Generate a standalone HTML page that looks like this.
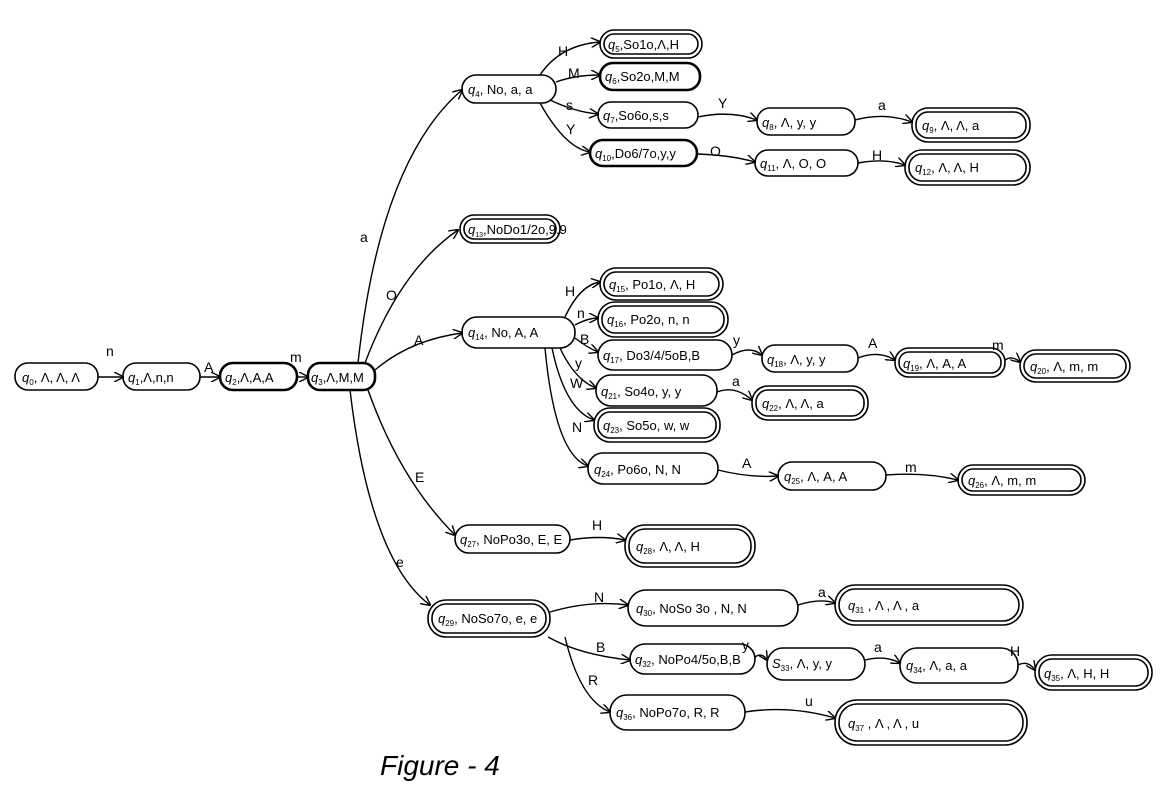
<!DOCTYPE html>
<html><head><meta charset="utf-8"><style>
html,body{margin:0;padding:0;background:#fff;}
svg{display:block}
text{font-family:"Liberation Sans",sans-serif;font-size:13px;fill:#000}
.n{fill:none;stroke:#000;stroke-width:1.6}
.b{fill:none;stroke:#000;stroke-width:2.6}
.e{fill:none;stroke:#000;stroke-width:1.4;marker-end:url(#ar)}
.l{font-size:14px}
</style></head><body>
<svg width="1161" height="811" viewBox="0 0 1161 811" xmlns="http://www.w3.org/2000/svg">
<defs><marker id="ar" markerWidth="10" markerHeight="10" refX="9" refY="5" orient="auto" markerUnits="userSpaceOnUse"><path d="M0,0 L10,5 L0,10" fill="none" stroke="#000" stroke-width="1.4"/></marker></defs>

<!-- main chain -->
<rect class="n" x="15" y="363" width="83" height="27" rx="13"/><text x="22" y="382"><tspan font-style="italic">q</tspan><tspan font-size="8" dy="3">0</tspan><tspan dy="-3">, Λ, Λ, Λ</tspan></text>
<rect class="n" x="123" y="363" width="77" height="27" rx="13"/><text x="128" y="382"><tspan font-style="italic">q</tspan><tspan font-size="8" dy="3">1</tspan><tspan dy="-3">,Λ,n,n</tspan></text>
<rect class="b" x="220" y="363" width="77" height="27" rx="13"/><text x="225" y="382"><tspan font-style="italic">q</tspan><tspan font-size="8" dy="3">2</tspan><tspan dy="-3">,Λ,A,A</tspan></text>
<rect class="b" x="308" y="363" width="67" height="27" rx="12"/><text x="311" y="382"><tspan font-style="italic">q</tspan><tspan font-size="8" dy="3">3</tspan><tspan dy="-3">,Λ,M,M</tspan></text>
<path class="e" d="M98,377 L123,377"/><text class="l" x="106" y="356">n</text>
<path class="e" d="M200,377 L220,377"/><text class="l" x="204" y="372">A</text>
<path class="e" d="M297,377 L308,377"/><text class="l" x="290" y="362">m</text>

<!-- branches from q3 -->
<path class="e" d="M358,363 Q380,160 462,90"/><text class="l" x="360" y="242">a</text>
<path class="e" d="M365,363 Q400,270 458,230"/><text class="l" x="386" y="300">O</text>
<path class="e" d="M375,370 Q410,340 462,333"/><text class="l" x="414" y="345">A</text>
<path class="e" d="M368,390 Q400,480 455,535"/><text class="l" x="415" y="482">E</text>
<path class="e" d="M350,390 Q370,560 430,605"/><text class="l" x="396" y="567">e</text>

<!-- q4 group -->
<rect class="n" x="462" y="75" width="94" height="28" rx="14"/><text x="468" y="94"><tspan font-style="italic">q</tspan><tspan font-size="8" dy="3">4</tspan><tspan dy="-3">, No, a, a</tspan></text>
<rect class="n" x="600" y="30" width="102" height="28" rx="14"/><rect class="n" x="604" y="34" width="94" height="20" rx="10"/><text x="608" y="49"><tspan font-style="italic">q</tspan><tspan font-size="8" dy="3">5</tspan><tspan dy="-3">,So1o,Λ,H</tspan></text>
<rect class="b" x="600" y="63" width="100" height="27" rx="13"/><text x="605" y="81"><tspan font-style="italic">q</tspan><tspan font-size="8" dy="3">6</tspan><tspan dy="-3">,So2o,M,M</tspan></text>
<rect class="n" x="598" y="102" width="100" height="26" rx="13"/><text x="603" y="120"><tspan font-style="italic">q</tspan><tspan font-size="8" dy="3">7</tspan><tspan dy="-3">,So6o,s,s</tspan></text>
<rect class="b" x="590" y="140" width="107" height="26" rx="13"/><text x="595" y="158"><tspan font-style="italic">q</tspan><tspan font-size="8" dy="3">10</tspan><tspan dy="-3">,Do6/7o,y,y</tspan></text>
<path class="e" d="M540,75 Q560,45 600,42"/><text class="l" x="558" y="56">H</text>
<path class="e" d="M556,82 Q575,75 600,75"/><text class="l" x="568" y="78">M</text>
<path class="e" d="M550,100 Q575,112 598,114"/><text class="l" x="566" y="110">s</text>
<path class="e" d="M540,103 Q565,148 590,152"/><text class="l" x="566" y="134">Y</text>
<rect class="n" x="757" y="108" width="98" height="27" rx="13"/><text x="762" y="127"><tspan font-style="italic">q</tspan><tspan font-size="8" dy="3">8</tspan><tspan dy="-3">, Λ, y, y</tspan></text>
<path class="e" d="M698,117 Q730,110 757,120"/><text class="l" x="718" y="108">Y</text>
<rect class="n" x="912" y="108" width="118" height="34" rx="16"/><rect class="n" x="916" y="112" width="110" height="26" rx="12"/><text x="922" y="130"><tspan font-style="italic">q</tspan><tspan font-size="8" dy="3">9</tspan><tspan dy="-3">, Λ, Λ, a</tspan></text>
<path class="e" d="M855,120 Q885,112 912,122"/><text class="l" x="878" y="110">a</text>
<rect class="n" x="755" y="150" width="103" height="26" rx="13"/><text x="760" y="168"><tspan font-style="italic">q</tspan><tspan font-size="8" dy="3">11</tspan><tspan dy="-3">, Λ, O, O</tspan></text>
<path class="e" d="M697,154 Q730,155 755,162"/><text class="l" x="710" y="156">O</text>
<rect class="n" x="905" y="150" width="125" height="35" rx="17"/><rect class="n" x="909" y="154" width="117" height="27" rx="13"/><text x="915" y="172"><tspan font-style="italic">q</tspan><tspan font-size="8" dy="3">12</tspan><tspan dy="-3">, Λ, Λ, H</tspan></text>
<path class="e" d="M858,163 Q885,158 905,165"/><text class="l" x="872" y="160">H</text>

<!-- q13 -->
<rect class="n" x="460" y="215" width="100" height="28" rx="14"/><rect class="n" x="464" y="219" width="92" height="20" rx="10"/><text x="468" y="234" font-size="11"><tspan font-style="italic">q</tspan><tspan font-size="7" dy="3">13</tspan><tspan dy="-3">,NoDo1/2o,9,9</tspan></text>

<!-- q14 group -->
<rect class="n" x="462" y="317" width="113" height="31" rx="15"/><text x="468" y="337"><tspan font-style="italic">q</tspan><tspan font-size="8" dy="3">14</tspan><tspan dy="-3">, No, A, A</tspan></text>
<rect class="n" x="600" y="268" width="123" height="32" rx="16"/><rect class="n" x="604" y="272" width="115" height="24" rx="12"/><text x="609" y="289"><tspan font-style="italic">q</tspan><tspan font-size="8" dy="3">15</tspan><tspan dy="-3">, Po1o, Λ, H</tspan></text>
<rect class="n" x="598" y="302" width="130" height="35" rx="17"/><rect class="n" x="602" y="306" width="122" height="27" rx="13"/><text x="607" y="324"><tspan font-style="italic">q</tspan><tspan font-size="8" dy="3">16</tspan><tspan dy="-3">, Po2o, n, n</tspan></text>
<rect class="n" x="598" y="340" width="134" height="30" rx="15"/><text x="603" y="360"><tspan font-style="italic">q</tspan><tspan font-size="8" dy="3">17</tspan><tspan dy="-3">, Do3/4/5oB,B</tspan></text>
<rect class="n" x="596" y="375" width="121" height="31" rx="15"/><text x="601" y="396"><tspan font-style="italic">q</tspan><tspan font-size="8" dy="3">21</tspan><tspan dy="-3">, So4o, y, y</tspan></text>
<rect class="n" x="594" y="408" width="126" height="34" rx="16"/><rect class="n" x="598" y="412" width="118" height="26" rx="12"/><text x="603" y="430"><tspan font-style="italic">q</tspan><tspan font-size="8" dy="3">23</tspan><tspan dy="-3">, So5o, w, w</tspan></text>
<rect class="n" x="588" y="453" width="130" height="31" rx="15"/><text x="594" y="474"><tspan font-style="italic">q</tspan><tspan font-size="8" dy="3">24</tspan><tspan dy="-3">, Po6o, N, N</tspan></text>
<path class="e" d="M565,317 Q580,285 600,282"/><text class="l" x="565" y="296">H</text>
<path class="e" d="M575,325 Q588,318 598,318"/><text class="l" x="577" y="318">n</text>
<path class="e" d="M575,338 Q588,348 598,352"/><text class="l" x="580" y="344">B</text>
<path class="e" d="M560,348 Q575,380 596,388"/><text class="l" x="575" y="368">y</text>
<path class="e" d="M552,348 Q565,410 594,420"/><text class="l" x="570" y="388">W</text>
<path class="e" d="M545,348 Q555,455 588,466"/><text class="l" x="572" y="432">N</text>
<rect class="n" x="762" y="345" width="96" height="27" rx="13"/><text x="767" y="364"><tspan font-style="italic">q</tspan><tspan font-size="8" dy="3">18</tspan><tspan dy="-3">, Λ, y, y</tspan></text>
<path class="e" d="M732,355 Q750,345 762,355"/><text class="l" x="733" y="345">y</text>
<rect class="n" x="895" y="348" width="110" height="29" rx="14"/><rect class="n" x="899" y="352" width="102" height="21" rx="10"/><text x="903" y="368"><tspan font-style="italic">q</tspan><tspan font-size="8" dy="3">19</tspan><tspan dy="-3">, Λ, A, A</tspan></text>
<path class="e" d="M858,358 Q878,350 895,360"/><text class="l" x="868" y="348">A</text>
<rect class="n" x="1020" y="350" width="110" height="32" rx="16"/><rect class="n" x="1024" y="354" width="102" height="24" rx="12"/><text x="1030" y="371"><tspan font-style="italic">q</tspan><tspan font-size="8" dy="3">20</tspan><tspan dy="-3">, Λ, m, m</tspan></text>
<path class="e" d="M1005,360 Q1012,355 1020,362"/><text class="l" x="992" y="350">m</text>
<rect class="n" x="752" y="386" width="116" height="34" rx="16"/><rect class="n" x="756" y="390" width="108" height="26" rx="12"/><text x="762" y="408"><tspan font-style="italic">q</tspan><tspan font-size="8" dy="3">22</tspan><tspan dy="-3">, Λ, Λ, a</tspan></text>
<path class="e" d="M717,392 Q735,385 752,400"/><text class="l" x="732" y="386">a</text>
<rect class="n" x="778" y="462" width="108" height="28" rx="14"/><text x="784" y="481"><tspan font-style="italic">q</tspan><tspan font-size="8" dy="3">25</tspan><tspan dy="-3">, Λ, A, A</tspan></text>
<path class="e" d="M718,470 Q750,478 778,476"/><text class="l" x="742" y="468">A</text>
<rect class="n" x="958" y="465" width="127" height="30" rx="15"/><rect class="n" x="962" y="469" width="119" height="22" rx="11"/><text x="968" y="485"><tspan font-style="italic">q</tspan><tspan font-size="8" dy="3">26</tspan><tspan dy="-3">, Λ, m, m</tspan></text>
<path class="e" d="M886,475 Q925,472 958,480"/><text class="l" x="905" y="472">m</text>

<!-- q27 -->
<rect class="n" x="455" y="525" width="115" height="28" rx="14"/><text x="460" y="544" font-size="12"><tspan font-style="italic">q</tspan><tspan font-size="8" dy="3">27</tspan><tspan dy="-3">, NoPo3o, E, E</tspan></text>
<rect class="n" x="625" y="525" width="130" height="42" rx="20"/><rect class="n" x="629" y="529" width="122" height="34" rx="16"/><text x="636" y="551"><tspan font-style="italic">q</tspan><tspan font-size="8" dy="3">28</tspan><tspan dy="-3">, Λ, Λ, H</tspan></text>
<path class="e" d="M570,540 Q600,535 625,540"/><text class="l" x="592" y="530">H</text>

<!-- q29 group -->
<rect class="n" x="428" y="600" width="122" height="37" rx="18"/><rect class="n" x="432" y="604" width="114" height="29" rx="14"/><text x="438" y="623"><tspan font-style="italic">q</tspan><tspan font-size="8" dy="3">29</tspan><tspan dy="-3">, NoSo7o, e, e</tspan></text>
<rect class="n" x="628" y="590" width="170" height="36" rx="18"/><text x="636" y="613"><tspan font-style="italic">q</tspan><tspan font-size="8" dy="3">30</tspan><tspan dy="-3">, NoSo 3o , N, N</tspan></text>
<path class="e" d="M550,612 Q590,600 628,605"/><text class="l" x="594" y="602">N</text>
<rect class="n" x="835" y="585" width="188" height="40" rx="20"/><rect class="n" x="839" y="589" width="180" height="32" rx="16"/><text x="848" y="610"><tspan font-style="italic">q</tspan><tspan font-size="8" dy="3">31</tspan><tspan dy="-3"> ,  Λ ,  Λ ,  a</tspan></text>
<path class="e" d="M798,605 Q820,598 835,603"/><text class="l" x="818" y="597">a</text>
<rect class="n" x="630" y="644" width="125" height="30" rx="15"/><text x="635" y="664" font-size="12"><tspan font-style="italic">q</tspan><tspan font-size="8" dy="3">32</tspan><tspan dy="-3">, NoPo4/5o,B,B</tspan></text>
<path class="e" d="M548,637 Q580,655 630,660"/><text class="l" x="596" y="652">B</text>
<rect class="n" x="767" y="648" width="98" height="32" rx="16"/><text x="772" y="668"><tspan font-style="italic">S</tspan><tspan font-size="8" dy="3">33</tspan><tspan dy="-3">, Λ, y, y</tspan></text>
<path class="e" d="M755,657 Q762,652 767,660"/><text class="l" x="742" y="650">y</text>
<rect class="n" x="900" y="648" width="118" height="35" rx="17"/><text x="906" y="670"><tspan font-style="italic">q</tspan><tspan font-size="8" dy="3">34</tspan><tspan dy="-3">, Λ, a, a</tspan></text>
<path class="e" d="M865,660 Q885,655 900,663"/><text class="l" x="874" y="652">a</text>
<rect class="n" x="1035" y="655" width="117" height="35" rx="17"/><rect class="n" x="1039" y="659" width="109" height="27" rx="13"/><text x="1044" y="678"><tspan font-style="italic">q</tspan><tspan font-size="8" dy="3">35</tspan><tspan dy="-3">, Λ, H, H</tspan></text>
<path class="e" d="M1018,665 Q1028,660 1035,670"/><text class="l" x="1010" y="656">H</text>
<rect class="n" x="610" y="695" width="135" height="35" rx="17"/><text x="616" y="717"><tspan font-style="italic">q</tspan><tspan font-size="8" dy="3">36</tspan><tspan dy="-3">, NoPo7o, R, R</tspan></text>
<path class="e" d="M565,637 Q580,700 610,712"/><text class="l" x="588" y="685">R</text>
<rect class="n" x="835" y="700" width="192" height="45" rx="22"/><rect class="n" x="839" y="704" width="184" height="37" rx="18"/><text x="848" y="728"><tspan font-style="italic">q</tspan><tspan font-size="8" dy="3">37</tspan><tspan dy="-3"> ,  Λ ,  Λ ,  u</tspan></text>
<path class="e" d="M745,712 Q790,705 835,718"/><text class="l" x="805" y="706">u</text>

<text x="380" y="775" style="font-size:28px;font-style:italic">Figure - 4</text>
</svg>
</body></html>
